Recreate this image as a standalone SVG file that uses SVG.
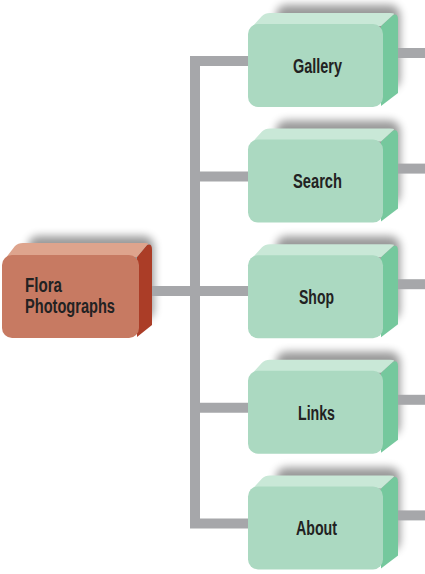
<svg xmlns="http://www.w3.org/2000/svg" xmlns:xlink="http://www.w3.org/1999/xlink" width="425" height="574" viewBox="0 0 425 574">
<defs>
<filter id="blur" x="-30%" y="-30%" width="160%" height="160%"><feGaussianBlur stdDeviation="4"/></filter>
<style>
.lbl{font-family:"Liberation Sans",Arial,sans-serif;font-size:20px;font-weight:bold;fill:#222;}
.conn{fill:none;stroke:#a6a7aa;stroke-width:10;stroke-linejoin:miter;stroke-linecap:butt;}
.shadow{fill:#000;opacity:0.4;}
.gfront{fill:#abd9c1;} .gtop{fill:#c9e8d7;} .gside{fill:#75c89d;}
.rfront{fill:#c77a62;} .rtop{fill:#dea48d;} .rside{fill:#ab3d27;}
</style>
<g id="gblock">
<path class="gside" d="M133,2 L145,-9 Q150,-11 150,-4 L150,69 L133,82 Z"/>
<path class="gtop" d="M3,4 L14,-8 Q17,-11 22,-11 L142,-11 Q148,-11 145,-9 L133,2 Z"/>
<rect class="gfront" x="0" y="0" width="135" height="83" rx="10"/>
</g>
<rect id="gshadow" class="shadow" x="28" y="-19" width="124" height="84" rx="10" filter="url(#blur)"/>
</defs>

<g id="shadows">
<use xlink:href="#gshadow" x="248" y="24"/>
<use xlink:href="#gshadow" x="248" y="139.6"/>
<use xlink:href="#gshadow" x="248" y="255.2"/>
<use xlink:href="#gshadow" x="248" y="370.8"/>
<use xlink:href="#gshadow" x="248" y="486.4"/>
<rect class="shadow" x="28" y="236" width="126" height="84" rx="10" filter="url(#blur)"/>
</g>

<g id="connectors">
<path class="conn" d="M250,61 H195 V523.4 H250"/>
<path class="conn" d="M195,176.6 H250"/>
<path class="conn" d="M145,291 H250"/>
<path class="conn" d="M195,407.8 H250"/>
<path class="conn" d="M395,53 H425"/>
<path class="conn" d="M395,168.6 H425"/>
<path class="conn" d="M395,284.2 H425"/>
<path class="conn" d="M395,399.8 H425"/>
<path class="conn" d="M395,515.4 H425"/>
</g>

<g id="flora">
<path class="rside" d="M135,2 L145,-10 Q150,-12 150,-5 L150,70 L135,82 Z" transform="translate(2,255)"/>
<path class="rtop" d="M3,4 L13,-9 Q16,-12 21,-12 L143,-12 Q148,-12 145,-10 L135,2 Z" transform="translate(2,255)"/>
<rect class="rfront" x="2" y="255" width="137" height="83" rx="10"/>
<text class="lbl" x="25" y="292" textLength="37" lengthAdjust="spacingAndGlyphs">Flora</text>
<text class="lbl" x="25" y="313" textLength="90" lengthAdjust="spacingAndGlyphs">Photographs</text>
</g>

<g id="gallery">
<use xlink:href="#gblock" x="248" y="24"/>
<text class="lbl" x="293" y="72.7" textLength="49" lengthAdjust="spacingAndGlyphs">Gallery</text>
</g>
<g id="search">
<use xlink:href="#gblock" x="248" y="139.6"/>
<text class="lbl" x="293" y="188.3" textLength="49" lengthAdjust="spacingAndGlyphs">Search</text>
</g>
<g id="shop">
<use xlink:href="#gblock" x="248" y="255.2"/>
<text class="lbl" x="299" y="303.9" textLength="35" lengthAdjust="spacingAndGlyphs">Shop</text>
</g>
<g id="links">
<use xlink:href="#gblock" x="248" y="370.8"/>
<text class="lbl" x="298" y="419.5" textLength="37" lengthAdjust="spacingAndGlyphs">Links</text>
</g>
<g id="about">
<use xlink:href="#gblock" x="248" y="486.4"/>
<text class="lbl" x="296" y="535.1" textLength="41" lengthAdjust="spacingAndGlyphs">About</text>
</g>
</svg>
